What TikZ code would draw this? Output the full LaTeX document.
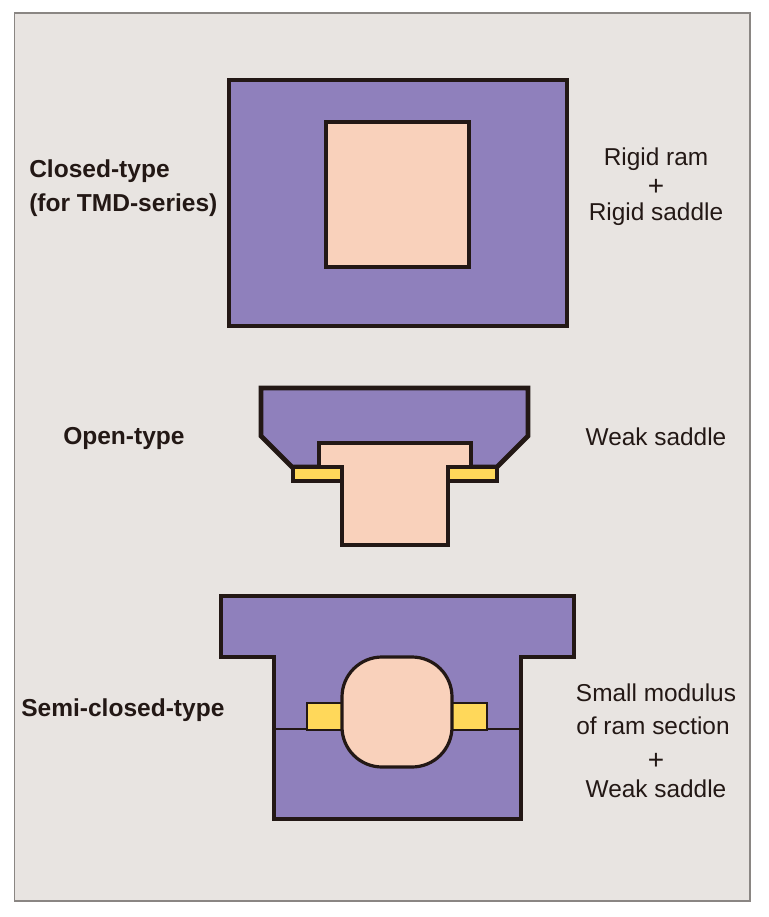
\documentclass[tikz,border=0pt]{standalone}
\usepackage{fontspec}
\setmainfont{Liberation Sans}
\definecolor{panelbg}{HTML}{E8E4E1}
\definecolor{panelln}{HTML}{8A8683}
\definecolor{steel}{HTML}{8F80BC}
\definecolor{ram}{HTML}{F9D1BB}
\definecolor{liner}{HTML}{FFD85A}
\definecolor{ink}{HTML}{231815}
\tikzset{
  heavy/.style={draw=ink,line width=3.5pt,line join=miter},
  medium/.style={draw=ink,line width=2.4pt,line join=miter},
  thin part/.style={draw=ink,line width=1.8pt,line join=miter},
  boldlabel/.style={font=\fontsize{18.4pt}{22pt}\selectfont\bfseries,text=ink,align=left,inner sep=0pt},
  notelabel/.style={font=\fontsize{18.3pt}{22pt}\selectfont,text=ink,align=center,inner sep=0pt},
  pluslabel/.style={font=\fontsize{21pt}{22pt}\selectfont,text=ink,inner sep=0pt},
}
\begin{document}
\begin{tikzpicture}[x=0.75pt,y=-0.75pt]
\useasboundingbox (0,0) rectangle (768,917);
\fill[white] (0,0) rectangle (768,917);
\draw[panelln,fill=panelbg,line width=1pt] (14.5,13) rectangle (750,901);

% closed type
\filldraw[heavy,fill=steel] (229,80) rectangle (567,326);
\filldraw[medium,fill=ram] (326,122) rectangle (469,267);

% open type
\filldraw[heavy,fill=steel] (261,388) -- (528,388) -- (528,436) -- (497,467) -- (292,467) -- (261,436) -- cycle;
\filldraw[medium,fill=ram] (319,467) -- (319,443) -- (471,443) -- (471,467) -- (448,467) -- (448,545) -- (342,545) -- (342,467) -- cycle;
\filldraw[medium,fill=liner] (293,467) rectangle (342,481);
\filldraw[medium,fill=liner] (448,467) rectangle (497,481);

% semi-closed type
\filldraw[heavy,fill=steel] (221,596) -- (574,596) -- (574,657) -- (521,657) -- (521,819) -- (274,819) -- (274,657) -- (221,657) -- cycle;
\draw[thin part] (274,729) -- (521,729);
\filldraw[thin part,fill=liner] (307,703) rectangle (345,730);
\filldraw[thin part,fill=liner] (449,703) rectangle (487,730);
\filldraw[medium,fill=ram,rounded corners=30] (342,657) rectangle (452,767);

% labels
\node[boldlabel,anchor=base west] (closed) at (29,177) {Closed-type};
\node[boldlabel,anchor=base west] (closedb) at (29,211) {(for TMD-series)};
\node[boldlabel,anchor=base west] (open) at (63,444) {Open-type};
\node[boldlabel,anchor=base west] (semi) at (21,716) {Semi-closed-type};
\node[notelabel,anchor=base] (r1) at (656,165) {Rigid ram};
\node[pluslabel,anchor=center] (r2) at (656,187) {+};
\node[notelabel,anchor=base] (r3) at (656,220) {Rigid saddle};
\node[notelabel,anchor=base] (w1) at (656,445) {Weak saddle};
\node[notelabel,anchor=base] (s1) at (656,701) {Small modulus};
\node[notelabel,anchor=base] (s2) at (653,734) {of ram section};
\node[pluslabel,anchor=center] (s3) at (656,761) {+};
\node[notelabel,anchor=base] (s4) at (656,797) {Weak saddle};
\end{tikzpicture}
\end{document}
